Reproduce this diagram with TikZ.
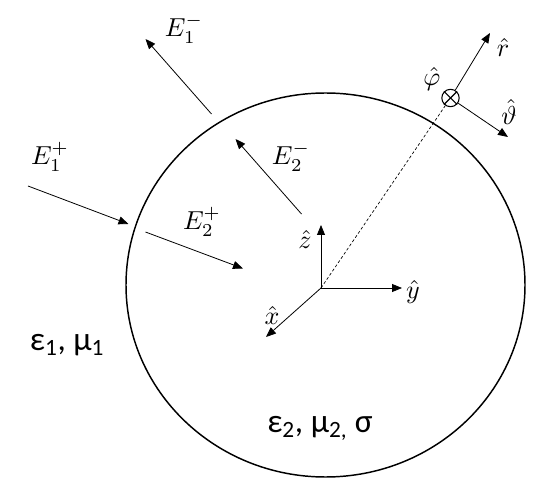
\documentclass[tikz,border=0pt]{standalone}
\usepackage{graphicx}
\usepackage{fontspec}
\newfontfamily\carl{Carlito}
\usetikzlibrary{arrows.meta}
\newcommand{\lblmath}[1]{\scalebox{1.95}{$#1$}}
\begin{document}
\begin{tikzpicture}[x=0.75pt,y=-0.75pt,
  arr/.style={-{Triangle[length=7.5pt,width=6pt]}, line width=0.6pt},
  lbl/.style={inner sep=0pt},
  mat/.style={font=\carl\fontsize{25}{30}\selectfont, inner sep=0pt}]
\useasboundingbox (0,0) rectangle (550,488);
% sphere
\draw[line width=1.1pt] (325.5,285) ellipse [x radius=199.5, y radius=192];
% origin and axes
\coordinate (o) at (321,288);
\coordinate (zt) at (321,225);
\coordinate (yt) at (402,288);
\coordinate (xt) at (266,337);
\draw[arr] (o) -- (zt);
\draw[arr] (o) -- (yt);
\draw[arr] (o) -- (xt);
\node[lbl] (zl) at (305,239) {\lblmath{\hat{z}}};
\node[lbl] (yl) at (413,292) {\lblmath{\hat{y}}};
\node[lbl] (xl) at (272,315) {\lblmath{\hat{x}}};
% local frame at surface
\node[draw, circle, line width=0.8pt, minimum size=13pt, inner sep=0pt] (phi) at (450.5,98) {};
\draw[line width=0.8pt] (phi.north east) -- (phi.south west);
\draw[line width=0.8pt] (phi.north west) -- (phi.south east);
\draw[dashed, dash pattern=on 2.2pt off 1.6pt, line width=0.5pt] (o) -- (phi);
\coordinate (rt) at (490,33);
\coordinate (tt) at (508,137);
\draw[arr] (phi) -- (rt);
\draw[arr] (phi) -- (tt);
\node[lbl] (rl) at (503,47) {\lblmath{\hat{r}}};
\node[lbl] (tl) at (509,112) {\lblmath{\hat{\vartheta}}};
\node[lbl] (pl) at (432,79) {\lblmath{\hat{\varphi}}};
% waves
\coordinate (e1ms) at (211.5,114);
\coordinate (e1mt) at (145.5,39);
\draw[arr] (e1ms) -- (e1mt);
\node[lbl] (e1ml) at (184,29) {\lblmath{E_1^-}};
\coordinate (e1ps) at (28,186);
\coordinate (e1pt) at (128.5,224);
\draw[arr] (e1ps) -- (e1pt);
\node[lbl] (e1pl) at (50,157) {\lblmath{E_1^+}};
\coordinate (e2ps) at (145.5,232);
\coordinate (e2pt) at (243,268.5);
\draw[arr] (e2ps) -- (e2pt);
\node[lbl] (e2pl) at (202,222) {\lblmath{E_2^+}};
\coordinate (e2ms) at (301.5,214);
\coordinate (e2mt) at (235.5,139);
\draw[arr] (e2ms) -- (e2mt);
\node[lbl] (e2ml) at (291,157) {\lblmath{E_2^-}};
% media
\node[mat] (m1) at (67,345) {ε\textsubscript{1}, μ\textsubscript{1}};
\node[mat] (m2) at (320,428) {ε\textsubscript{2}, μ\textsubscript{2,} σ};
\end{tikzpicture}
\end{document}
